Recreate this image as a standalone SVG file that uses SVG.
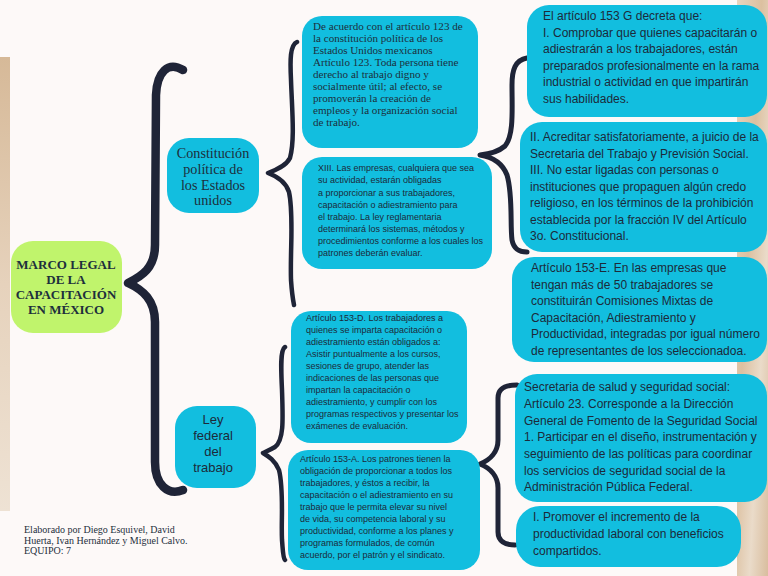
<svg xmlns="http://www.w3.org/2000/svg" width="768" height="576" viewBox="0 0 768 576">
<defs>
<linearGradient id="tanL" x1="0" y1="0" x2="0" y2="1">
<stop offset="0" stop-color="#d6b998"/>
<stop offset="0.5" stop-color="#e6d2bc"/>
<stop offset="1" stop-color="#eee2d4"/>
</linearGradient>
<linearGradient id="tanR" x1="0" y1="0" x2="1" y2="1">
<stop offset="0" stop-color="#e9d5bf"/>
<stop offset="0.4" stop-color="#dcc0a0"/>
<stop offset="0.7" stop-color="#eadbc9"/>
<stop offset="1" stop-color="#d9bd9e"/>
</linearGradient>
<style>
.box{fill:#12bedf}
.green{fill:#c0f46c}
.br{fill:none;stroke:#1f2437;stroke-linecap:round;stroke-linejoin:round}
.serif{font-family:"Liberation Serif","DejaVu Serif",serif;fill:#1d2f3c}
.sans{font-family:"Liberation Sans",Arimo,sans-serif;fill:#1c2a3a}
.s9{font-size:9px}
.s12{font-size:12px}
.c{text-anchor:middle}
</style>
</defs>
<rect width="768" height="576" fill="#fdf9f8"/>
<rect x="0" y="57" width="10" height="454" fill="url(#tanL)"/>
<rect x="737" y="0" width="31" height="576" fill="url(#tanR)"/>

<g id="connectors">
<path class="br" stroke-width="8.5" d="M183 70 C168 61 157 72 156 95 L155 245 C155 268 142 276 128 283 C143 290 155 300 155 322 L155 462 C155 485 168 496 183 490"/>
<path class="br" stroke-width="4.5" d="M297 42 C290 45 290 60 291 80 C292 110 295 140 290 158 C286 166 276 170 268 173 C276 176 286 182 289 192 C294 215 290 250 291 280 C292 295 293 300 294 305"/>
<path class="br" stroke-width="4.5" d="M285 347 C280 350 281 370 282 390 C283 420 284 440 275 447 C270 450 265 452 263 453 C268 456 275 460 279 470 C284 490 281 520 282 540 C283 552 283 558 285 560"/>
<path class="br" stroke-width="5" d="M527 58 C515 60 512 70 512 85 C512 110 514 135 505 146 C498 152 490 154 480 155 C492 157 502 162 507 175 C513 195 510 225 512 240 C514 250 520 252 527 252"/>
<path class="br" stroke-width="5" d="M517 385 C505 385 498 388 498 398 L498 440 C498 452 490 460 480 464 C490 468 498 476 498 488 L498 532 C498 541 505 545 515 545"/>
</g>

<g id="marco">
<rect class="green" x="11" y="241" width="111" height="92" rx="22"/>
<text class="serif c" x="66" font-size="13" font-weight="bold" fill="#1e2b20"><tspan x="66" y="269">MARCO LEGAL</tspan><tspan x="66" y="284">DE LA</tspan><tspan x="66" y="299">CAPACITACIÓN</tspan><tspan x="66" y="314">EN MÉXICO</tspan></text>
</g>

<g id="constitucion">
<rect class="box" x="167" y="138" width="92" height="75" rx="22"/>
<text class="serif c" font-size="14.2"><tspan x="213" y="158">Constitución</tspan><tspan x="213" y="174">política de</tspan><tspan x="213" y="190">los Estados</tspan><tspan x="213" y="205">unidos</tspan></text>
</g>

<g id="ley">
<rect class="box" x="175" y="406" width="81" height="82" rx="22"/>
<text class="sans c" font-size="13"><tspan x="213" y="424">Ley</tspan><tspan x="213" y="440">federal</tspan><tspan x="213" y="456">del</tspan><tspan x="213" y="472">trabajo</tspan></text>
</g>

<g id="art123">
<rect class="box" x="302" y="16" width="176" height="132" rx="20"/>
<text class="serif" font-size="11.1"><tspan x="313" y="30">De acuerdo con el artículo 123 de</tspan><tspan x="313" y="42">la constitución política de los</tspan><tspan x="313" y="54">Estados Unidos mexicanos</tspan><tspan x="313" y="66">Artículo 123. Toda persona tiene</tspan><tspan x="313" y="78">derecho al trabajo digno y</tspan><tspan x="313" y="90">socialmente útil; al efecto, se</tspan><tspan x="313" y="102">promoverán la creación de</tspan><tspan x="313" y="114">empleos y la organización social</tspan><tspan x="313" y="126">de trabajo.</tspan></text>
</g>

<g id="xiii">
<rect class="box" x="302" y="157" width="190" height="112" rx="20"/>
<text class="sans s9"><tspan x="318" y="171">XIII. Las empresas, cualquiera que sea</tspan><tspan x="318" y="183">su actividad, estarán obligadas</tspan><tspan x="318" y="196">a proporcionar a sus trabajadores,</tspan><tspan x="318" y="208">capacitación o adiestramiento para</tspan><tspan x="318" y="220">el trabajo. La ley reglamentaria</tspan><tspan x="318" y="232">determinará los sistemas, métodos y</tspan><tspan x="318" y="244">procedimientos conforme a los cuales los</tspan><tspan x="318" y="256">patrones deberán evaluar.</tspan></text>
</g>

<g id="art153d">
<rect class="box" x="291" y="311" width="176" height="132" rx="20"/>
<text class="sans s9"><tspan x="306" y="321">Artículo 153-D. Los trabajadores a</tspan><tspan x="306" y="333">quienes se imparta capacitación o</tspan><tspan x="306" y="345">adiestramiento están obligados a:</tspan><tspan x="306" y="357">Asistir puntualmente a los cursos,</tspan><tspan x="306" y="369">sesiones de grupo, atender las</tspan><tspan x="306" y="381">indicaciones de las personas que</tspan><tspan x="306" y="393">impartan la capacitación o</tspan><tspan x="306" y="405">adiestramiento, y cumplir con los</tspan><tspan x="306" y="417">programas respectivos y presentar los</tspan><tspan x="306" y="429">exámenes de evaluación.</tspan></text>
</g>

<g id="art153a">
<rect class="box" x="288" y="450" width="192" height="120" rx="20"/>
<text class="sans s9"><tspan x="300" y="462">Artículo 153-A. Los patrones tienen la</tspan><tspan x="300" y="474">obligación de proporcionar a todos los</tspan><tspan x="300" y="486">trabajadores, y éstos a recibir, la</tspan><tspan x="300" y="498">capacitación o el adiestramiento en su</tspan><tspan x="300" y="510">trabajo que le permita elevar su nivel</tspan><tspan x="300" y="522">de vida, su competencia laboral y su</tspan><tspan x="300" y="534">productividad, conforme a los planes y</tspan><tspan x="300" y="546">programas formulados, de común</tspan><tspan x="300" y="558">acuerdo, por el patrón y el sindicato.</tspan></text>
</g>

<g id="art153g">
<rect class="box" x="527" y="5" width="240" height="112" rx="22"/>
<text class="sans s12"><tspan x="543" y="20">El artículo 153 G decreta que:</tspan><tspan x="543" y="36.5">I. Comprobar que quienes capacitarán o</tspan><tspan x="543" y="53">adiestrarán a los trabajadores, están</tspan><tspan x="543" y="69.5">preparados profesionalmente en la rama</tspan><tspan x="543" y="86">industrial o actividad en que impartirán</tspan><tspan x="543" y="102.5">sus habilidades.</tspan></text>
</g>

<g id="acreditar">
<rect class="box" x="520" y="122" width="247" height="130" rx="22"/>
<text class="sans s12"><tspan x="530" y="141">II. Acreditar satisfatoriamente, a juicio de la</tspan><tspan x="530" y="157.5">Secretaria del Trabajo y Previsión Social.</tspan><tspan x="530" y="174">III. No estar ligadas con personas o</tspan><tspan x="530" y="190.5">instituciones que propaguen algún credo</tspan><tspan x="530" y="207">religioso, en los términos de la prohibición</tspan><tspan x="530" y="223.5">establecida por la fracción IV del Artículo</tspan><tspan x="530" y="240">3o. Constitucional.</tspan></text>
</g>

<g id="art153e">
<rect class="box" x="512" y="257" width="255" height="105" rx="22"/>
<text class="sans s12"><tspan x="531" y="272">Artículo 153-E. En las empresas que</tspan><tspan x="531" y="288.5">tengan más de 50 trabajadores se</tspan><tspan x="531" y="305">constituirán Comisiones Mixtas de</tspan><tspan x="531" y="321.5">Capacitación, Adiestramiento y</tspan><tspan x="531" y="338">Productividad, integradas por igual número</tspan><tspan x="531" y="354.5">de representantes de los seleccionadoa.</tspan></text>
</g>

<g id="secretaria">
<rect class="box" x="515" y="374" width="252" height="128" rx="22"/>
<text class="sans s12"><tspan x="524" y="391">Secretaria de salud y seguridad social:</tspan><tspan x="524" y="408">Artículo 23. Corresponde a la Dirección</tspan><tspan x="524" y="424.5">General de Fomento de la Seguridad Social</tspan><tspan x="524" y="441">1. Participar en el diseño, instrumentación y</tspan><tspan x="524" y="458">seguimiento de las políticas para coordinar</tspan><tspan x="524" y="474.5">los servicios de seguridad social de la</tspan><tspan x="524" y="491">Administración Pública Federal.</tspan></text>
</g>

<g id="promover">
<rect class="box" x="516" y="506" width="225" height="61" rx="24"/>
<text class="sans s12"><tspan x="533" y="521">I. Promover el incremento de la</tspan><tspan x="533" y="538">productividad laboral con beneficios</tspan><tspan x="533" y="555">compartidos.</tspan></text>
</g>

<g id="footer">
<text class="serif" font-size="10" fill="#2a2a2a"><tspan x="24" y="533">Elaborado por Diego Esquivel, David</tspan><tspan x="24" y="544">Huerta, Ivan Hernández y Miguel Calvo.</tspan><tspan x="24" y="554">EQUIPO: 7</tspan></text>
</g>
</svg>
